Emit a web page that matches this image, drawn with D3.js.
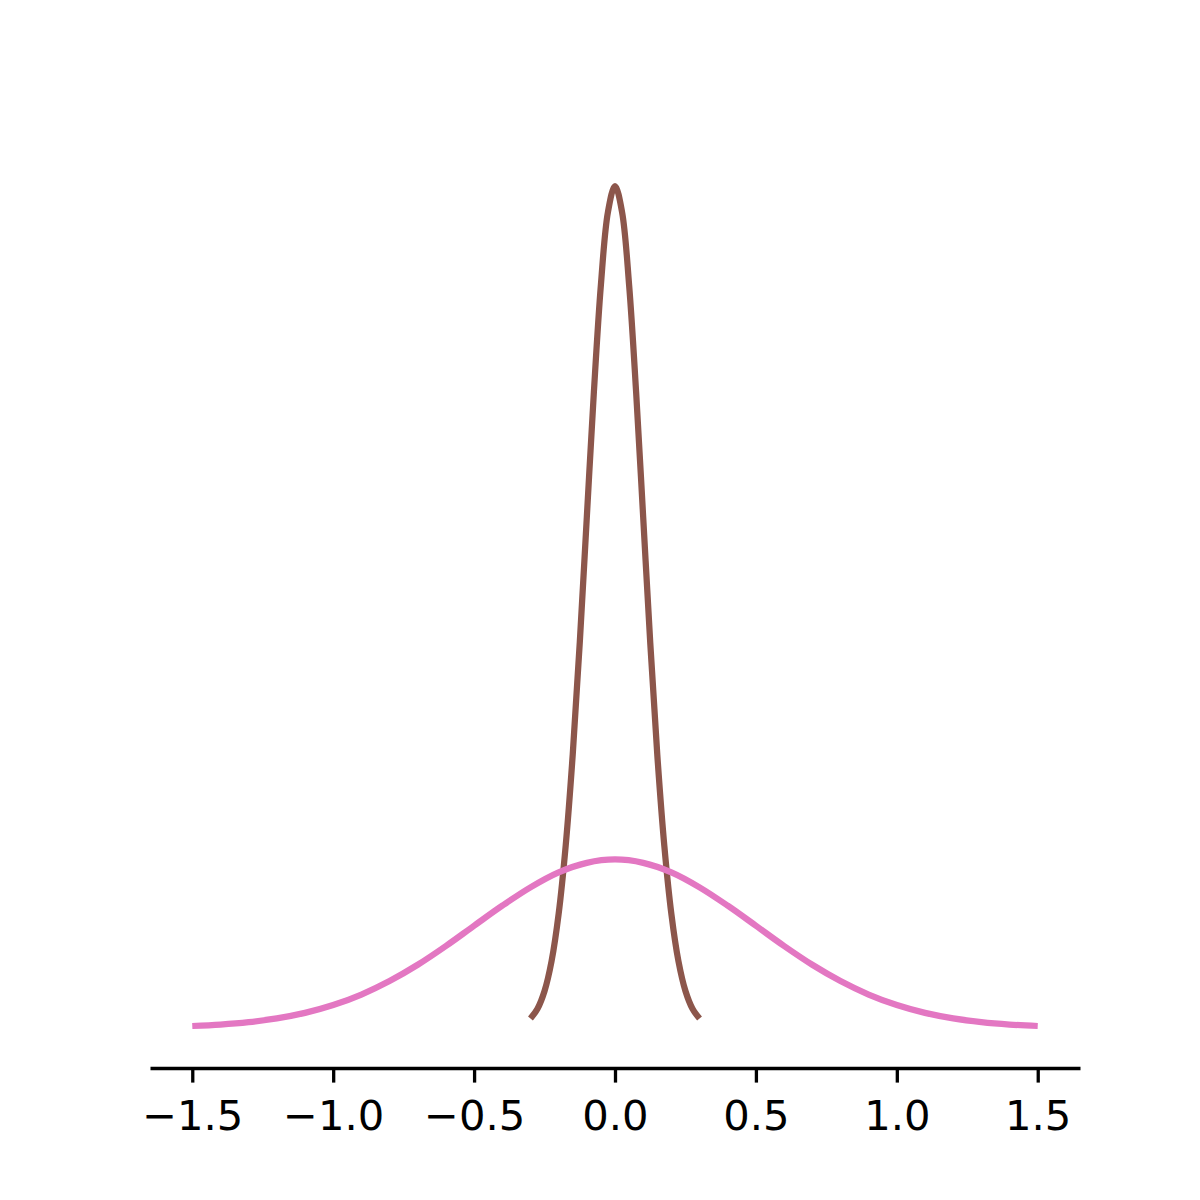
<!DOCTYPE html>
<html>
<head>
<meta charset="utf-8">
<script src="https://cdn.jsdelivr.net/npm/d3@7"></script>
<style>
  body { margin: 0; background: #fff; }
  svg { display: block; }
  .ax text { font-family: "DejaVu Sans", sans-serif; font-size: 41.7px; fill: #000; }
</style>
</head>
<body>
<svg id="fig"></svg>
<script>
'use strict';

// narrow curve (brown), x from -0.3 to 0.3
const narrowX = [-0.3, -0.275, -0.25, -0.225, -0.2, -0.175, -0.15, -0.125, -0.1, -0.075, -0.05, -0.025,
  0, 0.025, 0.05, 0.075, 0.1, 0.125, 0.15, 0.175, 0.2, 0.225, 0.25, 0.275, 0.3];
const narrowY = [0.0443, 0.0909, 0.175, 0.317, 0.540, 0.863, 1.295, 1.826, 2.420, 3.011, 3.521, 3.866,
  3.989, 3.866, 3.521, 3.011, 2.420, 1.826, 1.295, 0.863, 0.540, 0.317, 0.175, 0.0909, 0.0443];

// wide curve (pink), x from -1.5 to 1.5
const wideX = [-1.5, -1.4, -1.3, -1.2, -1.1, -1.0, -0.9, -0.8, -0.7, -0.6, -0.5, -0.4, -0.3, -0.2, -0.1,
  0, 0.1, 0.2, 0.3, 0.4, 0.5, 0.6, 0.7, 0.8, 0.9, 1.0, 1.1, 1.2, 1.3, 1.4, 1.5];
const wideY = [0.0089, 0.0158, 0.0272, 0.0448, 0.0709, 0.108, 0.158, 0.222, 0.299, 0.388, 0.484, 0.579, 0.666, 0.737, 0.782,
  0.798, 0.782, 0.737, 0.666, 0.579, 0.484, 0.388, 0.299, 0.222, 0.158, 0.108, 0.0709, 0.0448, 0.0272, 0.0158, 0.0089];

const xTicks = [-1.5, -1.0, -0.5, 0.0, 0.5, 1.0, 1.5];

const W = 1200, H = 1200;
const plotLeft = 150, plotRight = 1080, plotTop = 144, plotBottom = 1068;

const svg = d3.select('#fig').attr('width', W).attr('height', H);

// x: data range with 5% margins
const xr = [d3.min(wideX.concat(narrowX)), d3.max(wideX.concat(narrowX))];
const xm = (xr[1] - xr[0]) * 0.05;
const x = d3.scaleLinear().domain([xr[0] - xm, xr[1] + xm]).range([plotLeft, plotRight]);

const yr = [d3.min(wideY.concat(narrowY)), d3.max(wideY.concat(narrowY))];
const ym = (yr[1] - yr[0]) * 0.05;
const y = d3.scaleLinear().domain([yr[0] - ym, yr[1] + ym]).range([plotBottom, plotTop]);

const line = d3.line()
    .x(d => x(d[0]))
    .y(d => y(d[1]))
    .curve(d3.curveCatmullRom.alpha(0.5));

const series = [
    {xs: narrowX, ys: narrowY, color: '#8c564b'},
    {xs: wideX, ys: wideY, color: '#e377c2'}
];

series.forEach(s => {
    svg.append('path')
        .datum(s.xs.map((v, i) => [v, s.ys[i]]))
        .attr('fill', 'none')
        .attr('stroke', s.color)
        .attr('stroke-width', 6.25)
        .attr('d', line);
});

// bottom axis only
const axis = d3.axisBottom(x)
    .tickValues(xTicks)
    .tickSize(14.6)
    .tickSizeOuter(0)
    .tickPadding(18)
    .tickFormat(d => d3.format('.1f')(d).replace('-', '\u2212'));

const g = svg.append('g')
    .attr('class', 'ax')
    .attr('transform', 'translate(0,' + plotBottom + ')')
    .call(axis);

g.attr('font-size', null).attr('font-family', null);
g.select('.domain').attr('stroke', '#000').attr('stroke-width', 3.3);
g.selectAll('.tick line').attr('stroke', '#000').attr('stroke-width', 3.3);
</script>
</body>
</html>
